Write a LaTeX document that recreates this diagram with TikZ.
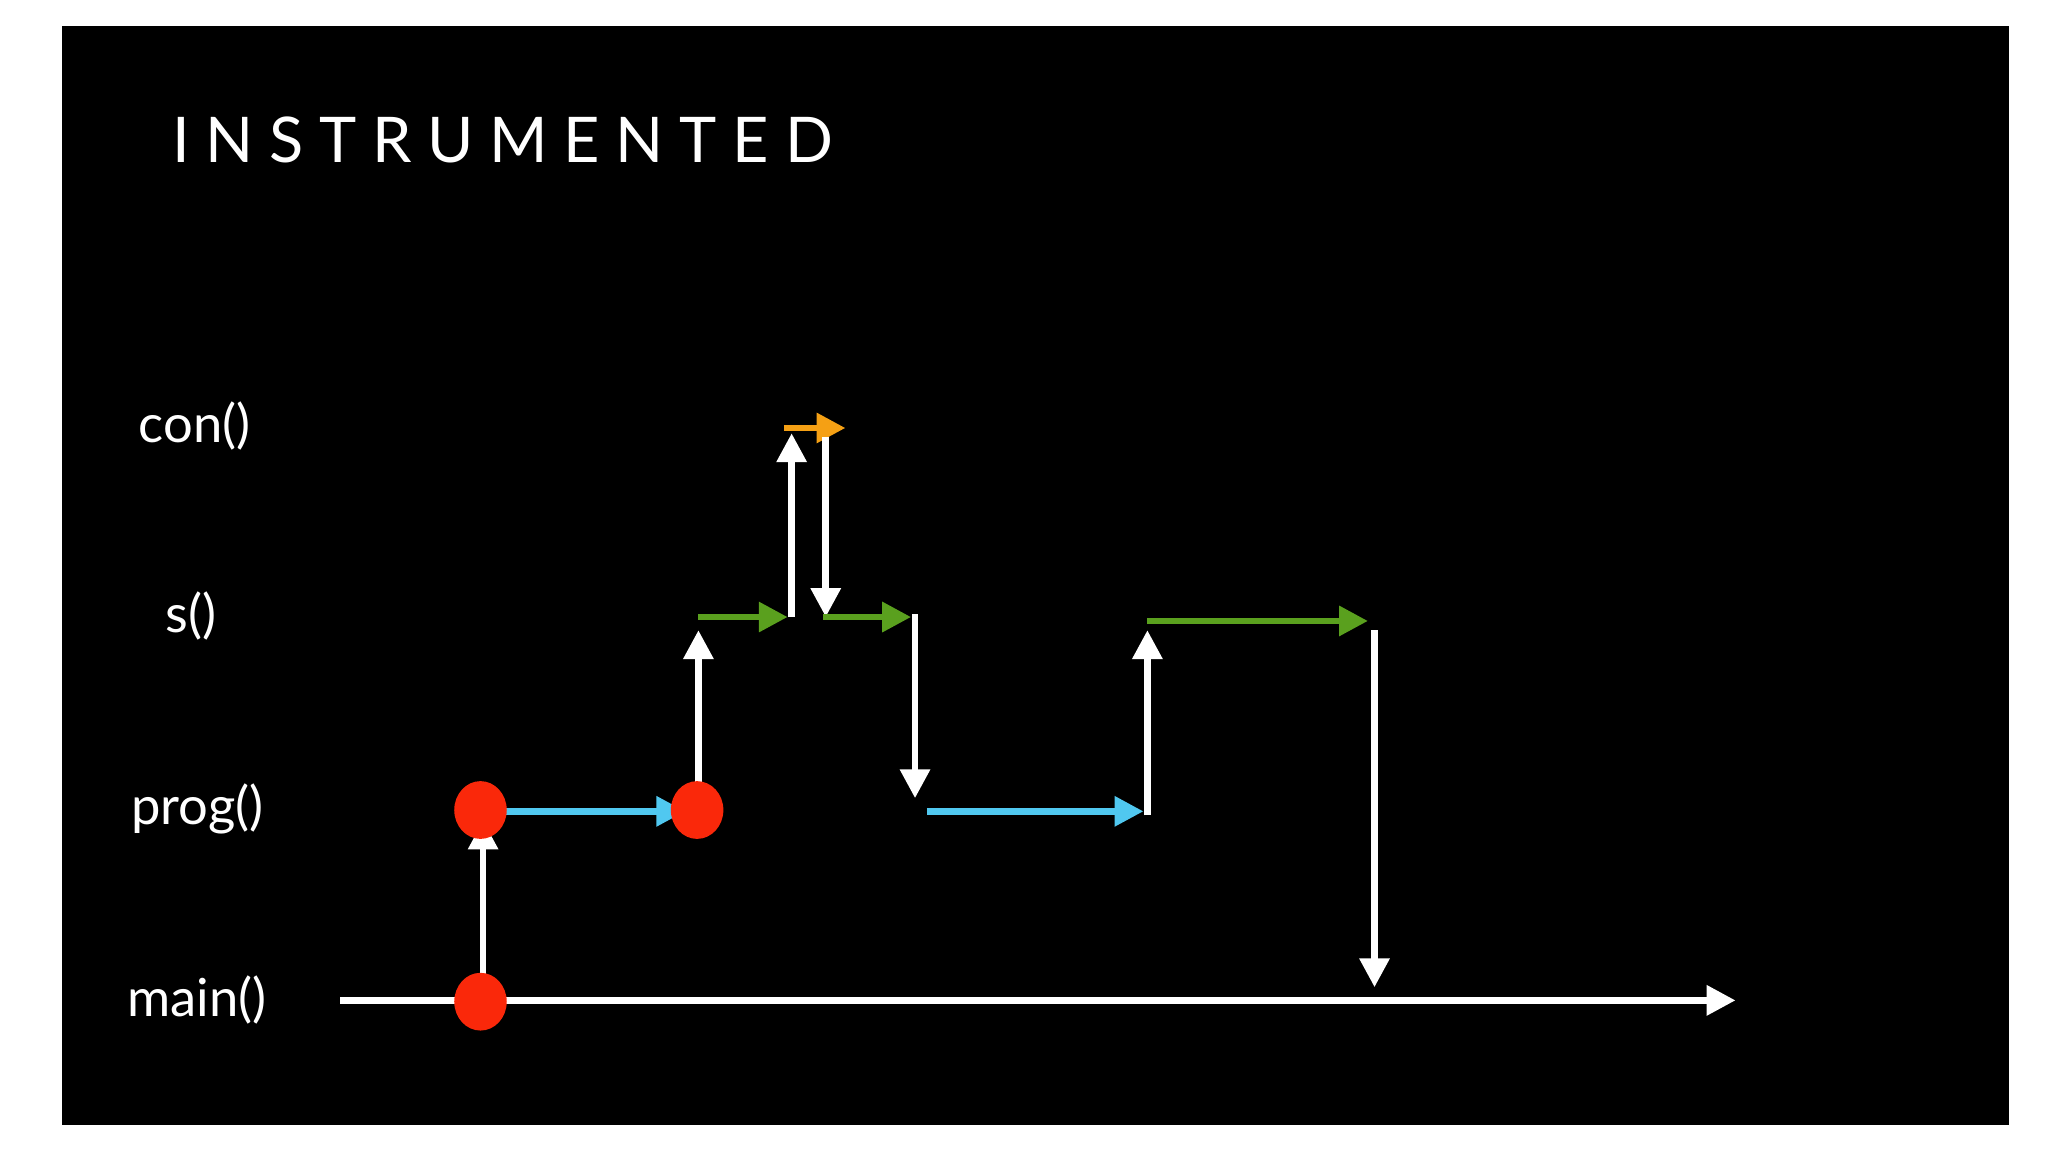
\documentclass[tikz,border=0pt]{standalone}
\usepackage{fontspec}
\setmainfont{Lato}
\usetikzlibrary{arrows.meta,shapes.geometric}
\begin{document}
\begin{tikzpicture}[x=0.5pt,y=-0.5pt,
  ar/.style={line width=2.5pt,-{Triangle[length=11pt,width=11pt]}},
  wl/.style={ar,white},
  cy/.style={ar,color={rgb,255:red,80;green,200;blue,240}},
  gr/.style={ar,color={rgb,255:red,90;green,160;blue,30}},
  og/.style={ar,color={rgb,255:red,245;green,160;blue,20}},
  dot/.style={ellipse,fill={rgb,255:red,250;green,40;blue,10},minimum width=20pt,minimum height=22pt,inner sep=0pt},
  lbl/.style={text=white,font=\fontsize{20}{24}\selectfont,anchor=base east}]
\fill[white] (0,0) rectangle (1560,884);
\fill[black] (47,20) rectangle (1530,857);
\node[text=white,anchor=base west,font=\addfontfeatures{LetterSpace=25}\fontsize{24}{28}\selectfont] (t) at (124,124) {INSTRUMENTED};
\node[lbl] (lc) at (198,337) {con()};
\node[lbl] (ls) at (172,482) {s()};
\node[lbl] (lp) at (208,628) {prog()};
\node[lbl] (lm) at (210,774) {main()};
% coordinates
\foreach \n/\x/\y in {m0/259/762,m1/1322/762,u1a/368/742,u1b/368/625,c1a/385/618,c1b/522/618,
 u2a/532/597,u2b/532/480,g1a/532/470,g1b/600/470,u3a/603/470,u3b/603/330,o1a/597/326,o1b/644/326,
 d1a/629/333,d1b/629/470,g2a/627/470,g2b/694/470,d2a/697/468,d2b/697/608,c2a/706/618,c2b/871/618,
 u4a/874/621,u4b/874/480,g3a/874/473,g3b/1042/473,d3a/1047/480,d3b/1047/752}
 {\coordinate (\n) at (\x,\y);}
\draw[wl] (m0) -- (m1);
\draw[wl] (u1a) -- (u1b);
\draw[cy] (c1a) -- (c1b);
\draw[wl] (u2a) -- (u2b);
\draw[gr] (g1a) -- (g1b);
\draw[wl] (u3a) -- (u3b);
\draw[og] (o1a) -- (o1b);
\draw[wl] (d1a) -- (d1b);
\draw[gr] (g2a) -- (g2b);
\draw[wl] (d2a) -- (d2b);
\draw[cy] (c2a) -- (c2b);
\draw[wl] (u4a) -- (u4b);
\draw[gr] (g3a) -- (g3b);
\draw[wl] (d3a) -- (d3b);
\node[dot] (e1) at (366,763) {};
\node[dot] (e2) at (366,617) {};
\node[dot] (e3) at (531,617) {};
\end{tikzpicture}
\end{document}
